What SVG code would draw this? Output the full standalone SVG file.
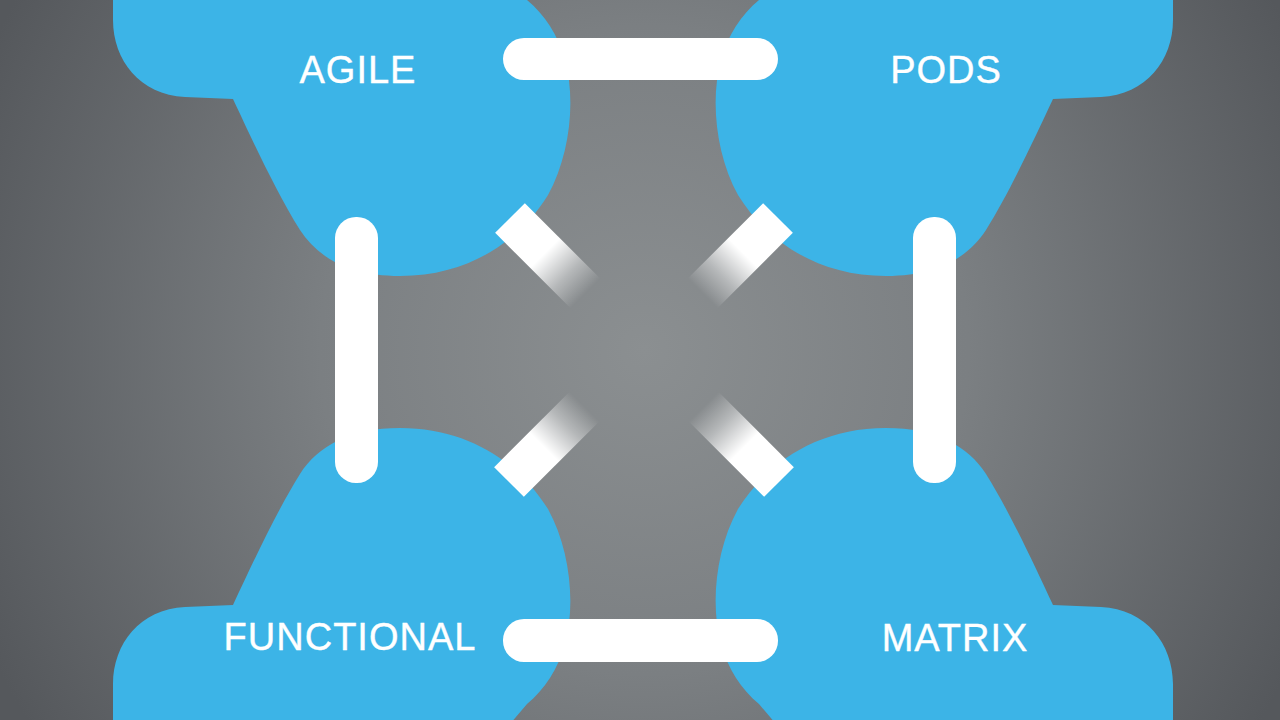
<svg xmlns="http://www.w3.org/2000/svg" width="1280" height="720" viewBox="0 0 1280 720">
  <defs>
    <radialGradient id="bg" gradientUnits="userSpaceOnUse" cx="644" cy="350" r="720">
      <stop offset="0" stop-color="#8b8f91"/>
      <stop offset="0.45" stop-color="#7b7f82"/>
      <stop offset="1" stop-color="#55585c"/>
    </radialGradient>
    <linearGradient id="fade" x1="0" y1="0" x2="1" y2="0">
      <stop offset="0" stop-color="#ffffff" stop-opacity="1"/>
      <stop offset="0.38" stop-color="#ffffff" stop-opacity="1"/>
      <stop offset="0.62" stop-color="#ffffff" stop-opacity="0.4"/>
      <stop offset="0.82" stop-color="#ffffff" stop-opacity="0"/>
    </linearGradient>
    <path id="blob" d="M113,-20 L113,20 C113,60 140,95 185,97 L233,99 C250,135 275,190 300,230 C318,258 350,276 400,276 C470,276 520,240 548,195 C570,155 576,100 565,60 C558,35 545,15 527,0 L510,-20 Z"/>
  </defs>
  <style>
    .blob { fill: #3cb4e7; }
    .label { fill: #ffffff; font-family: "Liberation Sans", Arial, sans-serif; font-size: 38px; letter-spacing: 1px; text-anchor: middle; stroke: #ffffff; stroke-width: 0.4px; }
    .bar { fill: #ffffff; }
    .diag { fill: url(#fade); }
  </style>
  <rect x="0" y="0" width="1280" height="720" fill="url(#bg)"/>

  <g id="node-agile">
    <use href="#blob" class="blob"/>
    <text class="label" x="358" y="83">AGILE</text>
  </g>
  <g id="node-pods">
    <use href="#blob" class="blob" transform="translate(1286,0) scale(-1,1)"/>
    <text class="label" x="946" y="83">PODS</text>
  </g>
  <g id="node-functional">
    <use href="#blob" class="blob" transform="translate(0,704) scale(1,-1)"/>
    <text class="label" x="350" y="650">FUNCTIONAL</text>
  </g>
  <g id="node-matrix">
    <use href="#blob" class="blob" transform="translate(1286,704) scale(-1,-1)"/>
    <text class="label" x="955" y="651">MATRIX</text>
  </g>

  <g id="connectors">
    <rect class="bar" x="503" y="38" width="275" height="42" rx="21"/>
    <rect class="bar" x="503" y="619" width="275" height="43" rx="21"/>
    <rect class="bar" x="335" y="217" width="43" height="266" rx="21"/>
    <rect class="bar" x="913" y="217" width="43" height="266" rx="21"/>
    <rect class="diag" x="0" y="-21" width="130" height="42" transform="translate(510,218) rotate(45)"/>
    <rect class="diag" x="0" y="-21" width="130" height="42" transform="translate(778,218) rotate(135)"/>
    <rect class="diag" x="0" y="-21" width="130" height="42" transform="translate(509,482) rotate(-45)"/>
    <rect class="diag" x="0" y="-21" width="130" height="42" transform="translate(779,482) rotate(-135)"/>
  </g>
</svg>
